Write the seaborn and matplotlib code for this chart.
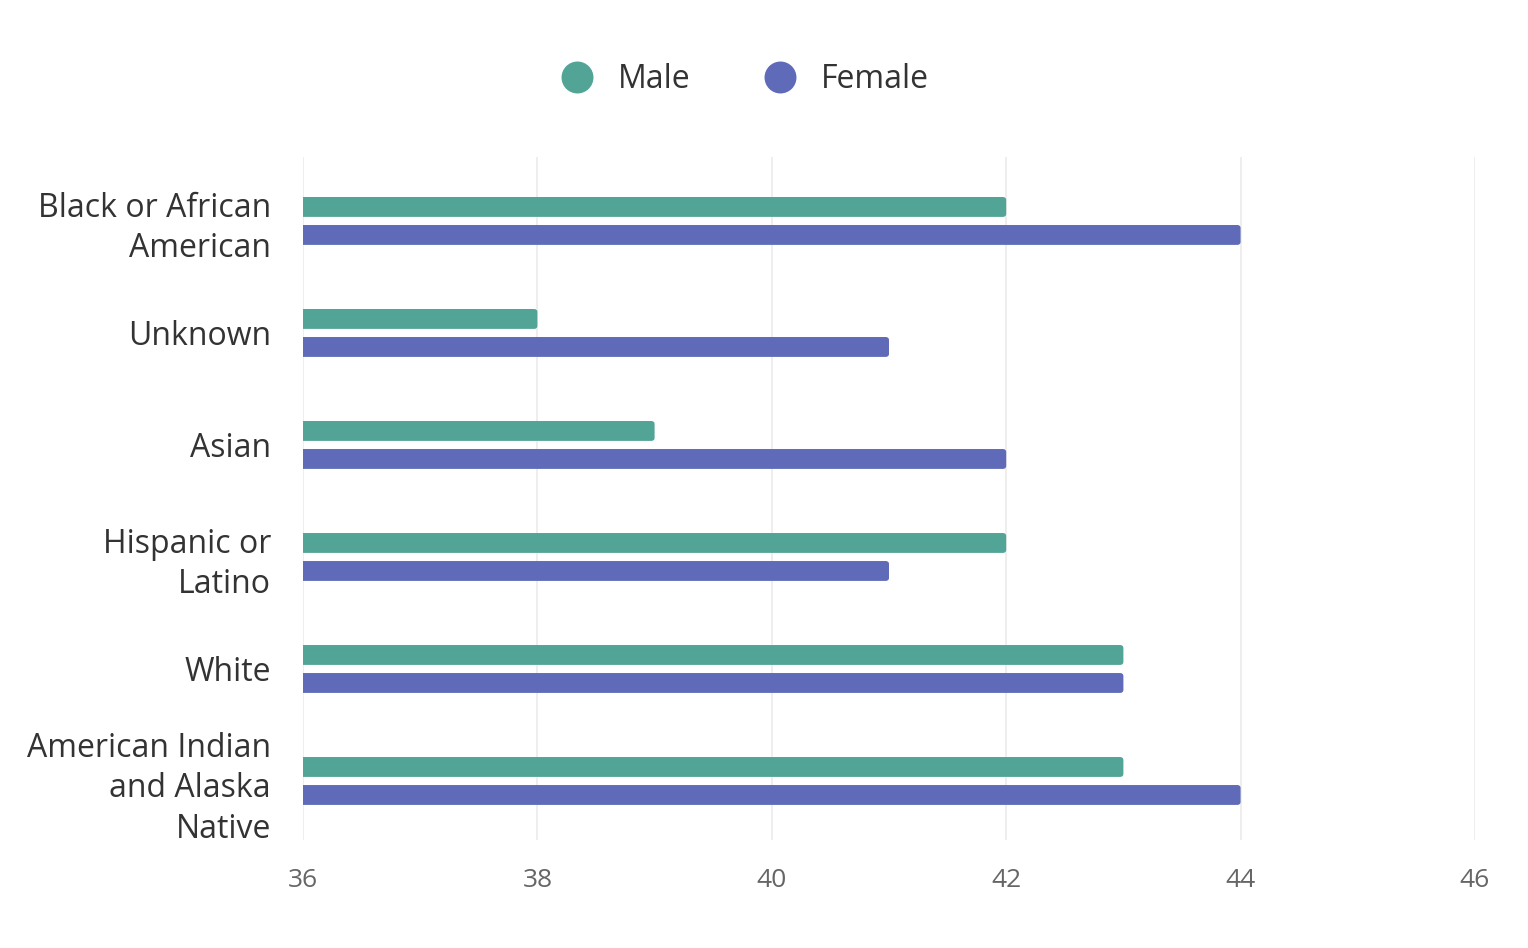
import seaborn as sns
import pandas as pd
import matplotlib.pyplot as plt
from matplotlib.patches import FancyBboxPatch
from matplotlib.lines import Line2D

groups = ["Black or African\nAmerican", "Unknown", "Asian", "Hispanic or\nLatino",
          "White", "American Indian\nand Alaska\nNative"]
male = [42, 38, 39, 42, 43, 43]
female = [44, 41, 42, 41, 43, 44]
sexes = ["Male", "Female"]
colors = {"Male": "#52a497", "Female": "#5f6bb8"}

df = pd.DataFrame({
    "group": groups * 2,
    "sex": ["Male"] * len(groups) + ["Female"] * len(groups),
    "value": male + female,
})

sns.set_style("white")
plt.rcParams["font.family"] = ["Open Sans", "DejaVu Sans"]

fig = plt.figure(figsize=(15.28, 9.48), dpi=100)
ax = fig.add_axes([303 / 1528, (948 - 840) / 948, (1475 - 303) / 1528, (840 - 157) / 948])

sns.barplot(df, x="value", y="group", hue="sex", order=groups, hue_order=sexes,
            palette=colors, saturation=1, width=0.5, gap=0.29, orient="h", ax=ax,
            legend=False)

# swap plain rectangles for ones with rounded ends
for p in list(ax.patches):
    x, y = p.get_x(), p.get_y()
    w, h = p.get_width(), p.get_height()
    fb = FancyBboxPatch((x, y), w, h, boxstyle="round,pad=0,rounding_size=0.028",
                        mutation_aspect=1.0, facecolor=p.get_facecolor(),
                        edgecolor="none", zorder=3)
    p.remove()
    ax.add_patch(fb)

ax.set_xlim(36, 46)
ax.set_ylim(5.527, -0.571)
ax.set_xticks([36, 38, 40, 42, 44, 46])
ax.grid(axis="x", color="#ebebeb", linewidth=1.2, zorder=0)
ax.set_axisbelow(True)
for s in ax.spines.values():
    s.set_visible(False)
ax.set_xlabel("")
ax.set_ylabel("")
ax.tick_params(axis="x", colors="#666666", labelsize=19, length=0, pad=20)
ax.tick_params(axis="y", colors="#333333", labelsize=23, length=0, pad=23)
for t in ax.get_yticklabels():
    t.set_linespacing(1.3)
    t.set_horizontalalignment("right")
    t.set_multialignment("right")

handles = [Line2D([0], [0], marker="o", linestyle="", markersize=23,
                  markerfacecolor=colors[s], markeredgecolor="none") for s in sexes]
fig.legend(handles, sexes, loc="center", bbox_to_anchor=(745 / 1528, 1 - 80 / 948),
           ncol=2, frameon=False, fontsize=23, handlelength=1.0, handletextpad=0.78,
           columnspacing=2.28, labelcolor="#333333")

fig.savefig("out.png", dpi=100, facecolor="white")
